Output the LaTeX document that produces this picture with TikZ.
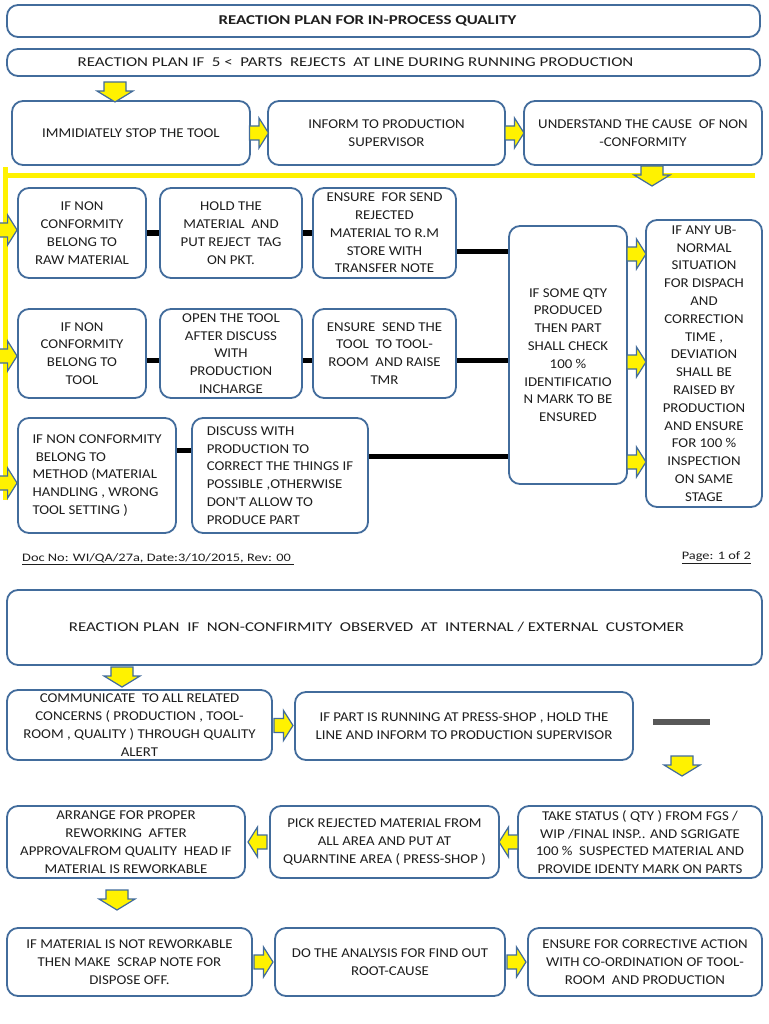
\documentclass[tikz,border=0pt]{standalone}
\usepackage{fontspec}
\setmainfont{Carlito}
\newfontfamily\bodyfont[FakeStretch=1.1]{Carlito}
\newfontfamily\widefont[FakeStretch=1.25]{Carlito}
\usetikzlibrary{calc}

\definecolor{boxblue}{RGB}{66,108,156}
\definecolor{txtgrey}{RGB}{30,30,30}
\definecolor{bargrey}{RGB}{88,88,88}

\begin{document}
\begin{tikzpicture}[x=1pt, y=-1pt,
    rarrow/.pic={\draw[draw=boxblue, fill=yellow, line width=1.2pt, line join=miter] (-9.5,-7) -- (0,-7) -- (0,-15) -- (9.5,0) -- (0,15) -- (0,7) -- (-9.5,7) -- cycle;},
    darrow/.pic={\draw[draw=boxblue, fill=yellow, line width=1.2pt, line join=miter] (-10,-11) -- (-1,-11) -- (-1,-18) -- (10,0) -- (-1,18) -- (-1,11) -- (-10,11) -- cycle;}] %Reaction plan
    \tikzstyle{plainbox} = [draw=boxblue, line width=1.8pt, rounded corners=11pt, fill=white, text=txtgrey, align=center, font=\bodyfont\fontsize{13.5}{17.8}\selectfont, inner sep=3pt]
    \tikzstyle{widebox} = [plainbox, font=\widefont\fontsize{13.5}{17.8}\selectfont]
    \tikzstyle{link} = [line width=5pt, black]
    \tikzstyle{yellowline} = [line width=5pt, yellow]
    \useasboundingbox (0,0) rectangle (768,1024);
    \fill[white] (0,0) rectangle (768,1024);

    \draw[yellowline] (3,176) -- (755,176);
    \draw[yellowline] (5,167) -- (5,500);

    \node[widebox, font=\widefont\bfseries\fontsize{13.5}{17}\selectfont, minimum width=753, minimum height=32] (title) at (383.5,21) {\hspace*{-32pt}REACTION PLAN FOR IN-PROCESS QUALITY};
    \node[widebox, minimum width=753, minimum height=27] (plan) at (383.5,62.5) {\hspace*{-56pt}REACTION PLAN IF\ \ 5 <\ \ PARTS\ \ REJECTS\ \ AT LINE DURING RUNNING PRODUCTION};

    \node[plainbox, minimum width=238, minimum height=64] (stop) at (131,133) {IMMIDIATELY STOP THE TOOL};
    \node[plainbox, minimum width=237, minimum height=64] (inform) at (386.5,133) {INFORM TO PRODUCTION\\SUPERVISOR};
    \node[plainbox, minimum width=238, minimum height=64] (cause) at (643,133) {UNDERSTAND THE CAUSE\ \ OF NON\\-CONFORMITY};

    \node[plainbox, minimum width=128, minimum height=90] (rawmat) at (82,233) {IF NON\\CONFORMITY\\BELONG TO\\RAW MATERIAL};
    \node[plainbox, minimum width=142, minimum height=90] (hold) at (231,233) {HOLD THE\\MATERIAL\ \ AND\\PUT REJECT\ \ TAG\\ON PKT.};
    \node[plainbox, minimum width=143, minimum height=90] (send) at (384.5,233) {ENSURE\ \ FOR SEND\\REJECTED\\MATERIAL TO R.M\\STORE WITH\\TRANSFER NOTE};

    \node[plainbox, minimum width=128, minimum height=89] (tool) at (82,353.5) {IF NON\\CONFORMITY\\BELONG TO\\TOOL};
    \node[plainbox, minimum width=142, minimum height=89] (open) at (231,353.5) {OPEN THE TOOL\\AFTER DISCUSS\\WITH\\PRODUCTION\\INCHARGE};
    \node[plainbox, minimum width=143, minimum height=89] (tmr) at (384.5,353.5) {ENSURE\ \ SEND THE\\TOOL\ \ TO TOOL-\\ROOM\ \ AND RAISE\\TMR};

    \node[plainbox, align=left, minimum width=158, minimum height=115] (method) at (97,475.5) {IF NON CONFORMITY\\\ BELONG TO\\METHOD (MATERIAL\\HANDLING , WRONG\\TOOL SETTING )};
    \node[plainbox, align=left, minimum width=176, minimum height=115] (discuss) at (280,475.5) {DISCUSS WITH\\PRODUCTION TO\\CORRECT THE THINGS IF\\POSSIBLE ,OTHERWISE\\DON'T ALLOW TO\\PRODUCE PART};

    \node[plainbox, minimum width=118, minimum height=258] (check) at (568,355) {IF SOME QTY\\PRODUCED\\THEN PART\\SHALL CHECK\\100 \%\\IDENTIFICATIO\\N MARK TO BE\\ENSURED};
    \node[plainbox, minimum width=116, minimum height=287] (abnormal) at (704,363.5) {IF ANY UB-\\NORMAL\\SITUATION\\FOR DISPACH\\AND\\CORRECTION\\TIME ,\\DEVIATION\\SHALL BE\\RAISED BY\\PRODUCTION\\AND ENSURE\\FOR 100 \%\\INSPECTION\\ON SAME\\STAGE};

    \draw[link] (rawmat) -- (hold);
    \draw[link] (hold) -- (send);
    \draw[link] (send.east |- 0,251) -- (check.west |- 0,251);
    \draw[link] (tool.east |- 0,360) -- (open.west |- 0,360);
    \draw[link] (open.east |- 0,360) -- (tmr.west |- 0,360);
    \draw[link] (tmr.east |- 0,360) -- (check.west |- 0,360);
    \draw[link] (method.east |- 0,450) -- (discuss.west |- 0,450);
    \draw[link] (discuss.east |- 0,456) -- (check.west |- 0,456);

    \node[text=txtgrey, font=\widefont\fontsize{11.5}{14}\selectfont, anchor=west, inner sep=0] (docno) at (22,559) {\underline{Doc No: WI/QA/27a, Date:3/10/2015, Rev: 00\ }};
    \node[text=txtgrey, font=\widefont\fontsize{11.5}{14}\selectfont, anchor=east, inner sep=0] (page) at (751,558) {\underline{Page: 1 of 2}};

    \node[widebox, minimum width=755, minimum height=75] (customer) at (384.5,627.5) {\hspace*{-16pt}REACTION PLAN\ \ IF\ \ NON-CONFIRMITY\ \ OBSERVED\ \ AT\ \ INTERNAL / EXTERNAL\ \ CUSTOMER};
    \node[plainbox, minimum width=265, minimum height=70] (alert) at (139.5,725) {COMMUNICATE\ \ TO ALL RELATED\\CONCERNS ( PRODUCTION , TOOL-\\ROOM , QUALITY ) THROUGH QUALITY\\ALERT};
    \node[plainbox, minimum width=338, minimum height=68] (press) at (464,726) {IF PART IS RUNNING AT PRESS-SHOP , HOLD THE\\LINE AND INFORM TO PRODUCTION SUPERVISOR};
    \node[fill=bargrey, minimum width=57, minimum height=6, inner sep=0] (bar) at (681.5,722) {};

    \node[plainbox, minimum width=238, minimum height=72] (rework) at (126,842) {ARRANGE FOR PROPER\\REWORKING\ \ AFTER\\APPROVALFROM QUALITY\ \ HEAD IF\\MATERIAL IS REWORKABLE};
    \node[plainbox, minimum width=229, minimum height=72] (pick) at (384.5,842) {PICK REJECTED MATERIAL FROM\\ALL AREA AND PUT AT\\QUARNTINE AREA ( PRESS-SHOP )};
    \node[plainbox, minimum width=244, minimum height=72] (status) at (640,842) {TAKE STATUS ( QTY ) FROM FGS /\\WIP /FINAL INSP.. AND SGRIGATE\\100 \%\ \ SUSPECTED MATERIAL AND\\PROVIDE IDENTY MARK ON PARTS};

    \node[plainbox, minimum width=245, minimum height=68] (scrap) at (129.5,962) {IF MATERIAL IS NOT REWORKABLE\\THEN MAKE\ \ SCRAP NOTE FOR\\DISPOSE OFF.};
    \node[plainbox, minimum width=230, minimum height=68] (analysis) at (390,962) {DO THE ANALYSIS FOR FIND OUT\\ROOT-CAUSE};
    \node[plainbox, minimum width=234, minimum height=68] (corrective) at (645,962) {ENSURE FOR CORRECTIVE ACTION\\WITH CO-ORDINATION OF TOOL-\\ROOM\ \ AND PRODUCTION};

    \foreach \from/\to in {stop/inform, inform/cause, alert/press, scrap/analysis, analysis/corrective}
    {
        \pic at ($(\from.east)!0.5!(\to.west)$) {rarrow};
    }
    \foreach \from/\to in {status/pick, pick/rework}
    {
        \pic[rotate=180] at ($(\from.west)!0.5!(\to.east)$) {rarrow};
    }
    \foreach \y in {254, 362, 462}
    {
        \pic at ($(check.east |- 0,\y)!0.5!(abnormal.west |- 0,\y)$) {rarrow};
    }
    \foreach \name/\y in {rawmat/230, tool/356, method/483}
    {
        \pic at ($(\name.west |- 0,\y)+(-9.5,0)$) {rarrow};
    }
    \pic[rotate=-90] at (115,92) {darrow};
    \pic[rotate=-90] at (652,176) {darrow};
    \pic[rotate=-90] at (122,677) {darrow};
    \pic[rotate=-90] at (682,766) {darrow};
    \pic[rotate=-90] at (117,900) {darrow};
\end{tikzpicture}
\end{document}
